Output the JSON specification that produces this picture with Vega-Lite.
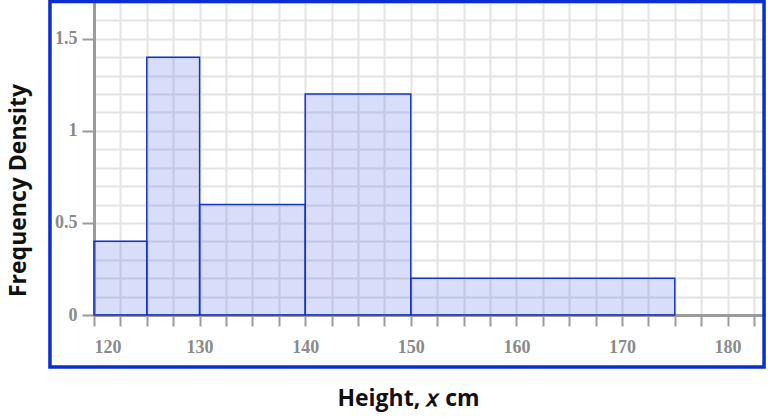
{
  "$schema": "https://vega.github.io/schema/vega-lite/v6.json",
  "width": 671,
  "height": 313,
  "autosize": "none",
  "padding": {"left": 94, "top": 2, "right": 3, "bottom": 102},
  "datasets": {
    "bars": [
      {"lo": 120, "hi": 125, "fd": 0.4, "base": 0},
      {"lo": 125, "hi": 130, "fd": 1.4, "base": 0},
      {"lo": 130, "hi": 140, "fd": 0.6, "base": 0},
      {"lo": 140, "hi": 150, "fd": 1.2, "base": 0},
      {"lo": 150, "hi": 175, "fd": 0.2, "base": 0}
    ],
    "frame": [
      {"lo": 115.83, "hi": 183.45, "fd": 1.703, "base": -0.2824}
    ]
  },
  "encoding": {
    "x": {
      "field": "lo",
      "type": "quantitative",
      "scale": {"domain": [120, 183.54], "nice": false},
      "axis": {
        "title": "Height, 𝑥 cm",
        "values": [120, 122.5, 125, 127.5, 130, 132.5, 135, 137.5, 140, 142.5, 145, 147.5, 150, 152.5, 155, 157.5, 160, 162.5, 165, 167.5, 170, 172.5, 175, 177.5, 180, 182.5],
        "format": "d",
        "labelExpr": "datum.value % 10 === 0 ? datum.label : ''",
        "labelPadding": 12,
        "tickSize": 11,
        "titleX": 314,
        "titleY": 83,
        "titleBaseline": "middle",
        "titleAlign": "center"
      }
    },
    "x2": {"field": "hi"},
    "y": {
      "field": "fd",
      "type": "quantitative",
      "scale": {"domain": [0, 1.7], "nice": false},
      "axis": {
        "title": "Frequency Density",
        "values": [0, 0.1, 0.2, 0.3, 0.4, 0.5, 0.6, 0.7, 0.8, 0.9, 1, 1.1, 1.2, 1.3, 1.4, 1.5, 1.6, 1.7],
        "format": "~g",
        "labelExpr": "abs(datum.value * 2 - round(datum.value * 2)) < 0.001 ? datum.label : ''",
        "tickOpacity": {
          "condition": {"test": "abs(datum.value * 2 - round(datum.value * 2)) < 0.001", "value": 1},
          "value": 0
        },
        "tickSize": 12,
        "labelPadding": 5,
        "titleX": -76,
        "titleY": 188,
        "titleBaseline": "middle",
        "titleAlign": "center"
      }
    },
    "y2": {"field": "base"}
  },
  "layer": [
    {
      "data": {"name": "bars"},
      "mark": {
        "type": "rect",
        "fill": "#3c5ae6",
        "fillOpacity": 0.2,
        "stroke": "#1535c8",
        "strokeWidth": 1.5
      }
    },
    {
      "data": {"name": "frame"},
      "mark": {
        "type": "rect",
        "fill": null,
        "fillOpacity": 0,
        "stroke": "#0a2ed2",
        "strokeWidth": 3.5
      }
    }
  ],
  "config": {
    "view": {"stroke": null},
    "axis": {
      "grid": true,
      "gridColor": "#e4e4e4",
      "gridWidth": 2,
      "domainColor": "#9b9b9b",
      "domainWidth": 3,
      "tickColor": "#9b9b9b",
      "tickWidth": 2,
      "labelFont": "Liberation Serif",
      "labelFontWeight": "bold",
      "labelFontSize": 18,
      "labelColor": "#8a8a8a",
      "titleFont": "Open Sans",
      "titleFontSize": 23,
      "titleFontWeight": "bold",
      "titleColor": "#111111"
    }
  }
}
